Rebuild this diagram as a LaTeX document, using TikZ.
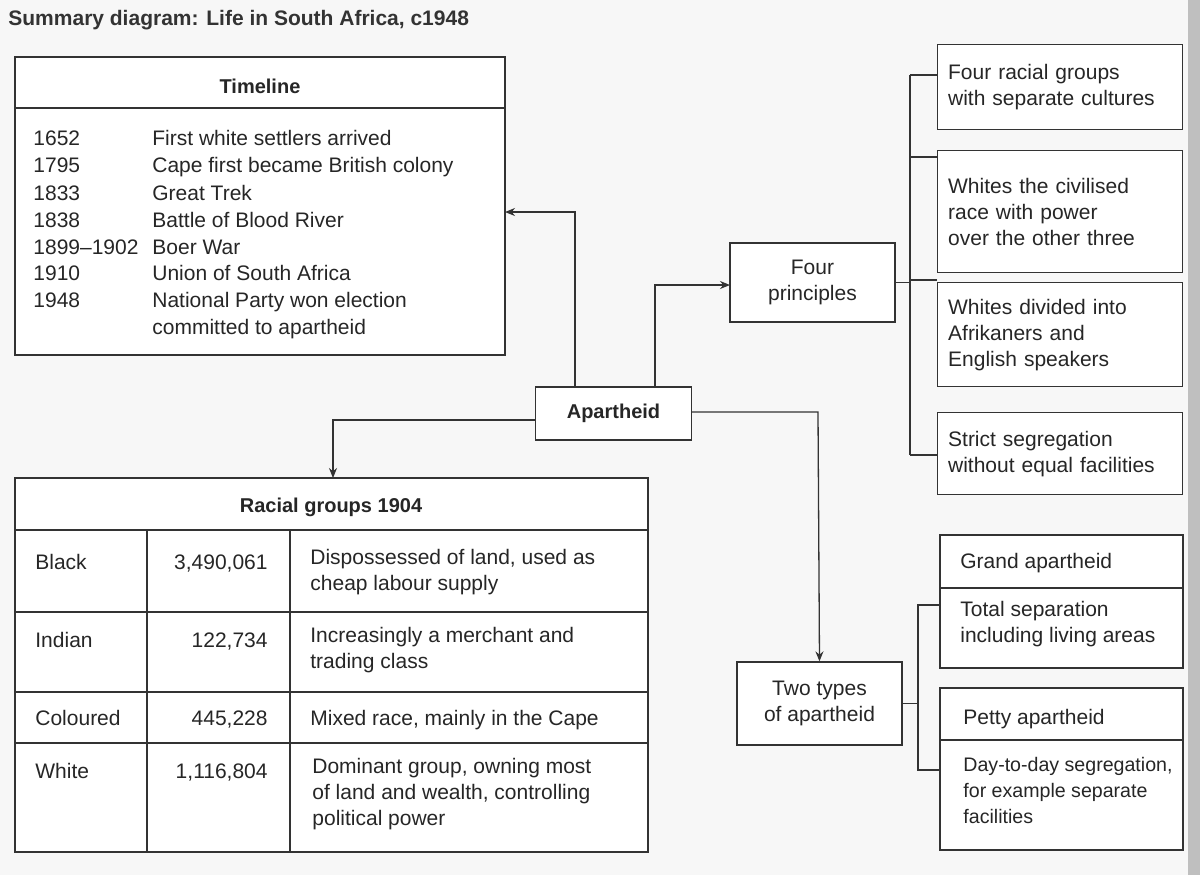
\documentclass[tikz,border=0pt]{standalone}
\usepackage{fontspec}
\setmainfont{Liberation Sans}
\usetikzlibrary{arrows.meta}
\begin{document}
\begin{tikzpicture}[x=0.5pt,y=-0.5pt,
  box/.style={draw=black!80,line width=0.65pt,fill=white},
  ln/.style={draw=black!80,line width=0.65pt},
  arr/.style={ln,-{Stealth[length=5pt,width=4pt]}},
  txt/.style={anchor=base west,inner sep=0pt,font=\fontsize{10.5}{13}\selectfont,text=black!85},
  ctr/.style={align=center,inner sep=0pt,font=\fontsize{10.5}{13}\selectfont,text=black!85},
  bld/.style={ctr,font=\fontsize{10}{12}\selectfont\bfseries}]
\useasboundingbox[fill=black!3] (0,0) rectangle (1200,875);
\fill[black!25] (1188,0) rectangle (1200,875);
\node[anchor=west,inner sep=0pt,font=\fontsize{10.5}{12}\selectfont\bfseries,text=black!80] (title) at (8,20) {Summary diagram: Life in South Africa, c1948};
% Timeline
\draw[box] (15,57) rectangle (505,355);
\coordinate (tlr) at (505,212);
\draw[ln] (15,108) -- (505,108);
\node[bld] (tlh) at (260,86) {Timeline};
\foreach \y/\a/\b in {145/1652/First white settlers arrived,172/1795/Cape first became British colony,200/1833/Great Trek,227/1838/Battle of Blood River,254/1899--1902/Boer War,280/1910/Union of South Africa,307/1948/National Party won election}
  {\node[txt] at (33,\y) {\a}; \node[txt] at (152,\y) {\b};}
\node[txt] (tll) at (152,334) {committed to apartheid};
% Apartheid
\node[box,bld,minimum width=78pt,minimum height=26.5pt,inner sep=0pt] (ap) at (613.5,413.5) {Apartheid};
\draw[arr] (575,387) -- (575,212) -- (tlr);
% Four principles
\node[box,ctr,minimum width=82.5pt,minimum height=39.5pt,inner sep=0pt] (fp) at (812.5,282.5) {Four\\principles};
\draw[arr] (655,387) -- (655,285) -- (730,285);
% racial table
\draw[box] (15,478) rectangle (648,852);
\coordinate (rtt) at (333,478);
\draw[arr] (535,420) -- (333,420) -- (rtt);
\draw[ln] (15,530) -- (648,530);
\node[bld] (rth) at (331,507) {Racial groups 1904};
\draw[ln] (147,530) -- (147,852) (290,530) -- (290,852);
\draw[ln] (15,612) -- (648,612) (15,692) -- (648,692) (15,743) -- (648,743);
\node[txt] at (35,569) {Black}; \node[txt,anchor=base east] at (268,569) {3,490,061};
\node[txt,align=left,anchor=north west] at (310,549) {Dispossessed of land, used as\\cheap labour supply};
\node[txt] at (35,647) {Indian}; \node[txt,anchor=base east] at (268,647) {122,734};
\node[txt,align=left,anchor=north west] at (310,627) {Increasingly a merchant and\\trading class};
\node[txt] at (35,725) {Coloured}; \node[txt,anchor=base east] at (268,725) {445,228};
\node[txt] at (310,725) {Mixed race, mainly in the Cape};
\node[txt] at (35,778) {White}; \node[txt,anchor=base east] at (268,778) {1,116,804};
\node[txt,align=left,anchor=north west] at (312,758) {Dominant group, owning most\\of land and wealth, controlling\\political power};
% principles boxes
\tikzset{pbox/.style={box,font=\fontsize{10.5}{13}\selectfont,text=black!85,anchor=north west,minimum width=122.5pt,text width=112pt,inner sep=5pt,align=left}}
\node[pbox,minimum height=42.5pt] (p1) at (937,44) {Four racial groups\\with separate cultures};
\node[pbox,minimum height=61pt] (p2) at (937,150) {Whites the civilised\\race with power\\over the other three};
\node[pbox,minimum height=52pt] (p3) at (937,282) {Whites divided into\\Afrikaners and\\English speakers};
\node[pbox,minimum height=41pt] (p4) at (937,412) {Strict segregation\\without equal facilities};
\draw[ln] (910,75) -- (910,455);
\draw[ln] (fp.east) -- (910,282.5);
\foreach \n/\y in {p1/75,p2/157,p3/280,p4/455} \draw[ln] (910,\y) -- (937,\y);
% Two types
\node[box,ctr,minimum width=82.5pt,minimum height=41.5pt,inner sep=0pt] (tt) at (819.5,703.5) {Two types\\of apartheid};
\draw[arr] (692,412) -- (818,412) -- (tt.north);
\draw[box] (940,535) rectangle (1183,668); \draw[ln] (940,588) -- (1183,588);
\node[txt] (g1) at (960,568) {Grand apartheid};
\node[txt,align=left,anchor=north west] (g2) at (960,601) {Total separation\\including living areas};
\draw[box] (940,688) rectangle (1183,850); \draw[ln] (940,740) -- (1183,740);
\node[txt] (q1) at (963,724) {Petty apartheid};
\node[txt,align=left,anchor=north west,font=\fontsize{9.8}{13}\selectfont] (q2) at (963,757) {Day-to-day segregation,\\for example separate\\facilities};
\draw[ln] (tt.east) -- (918,703.5);
\draw[ln] (940,605) -- (918,605) -- (918,770) -- (940,770);
\end{tikzpicture}
\end{document}
